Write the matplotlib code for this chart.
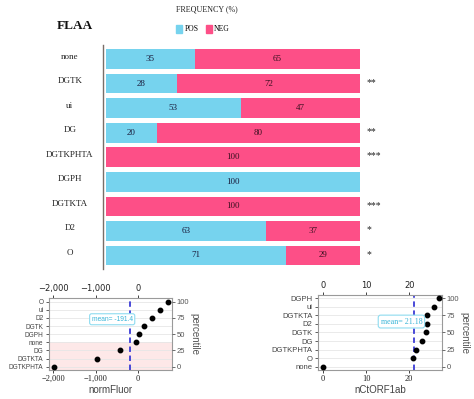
import numpy as np
import matplotlib
matplotlib.use("Agg")
import matplotlib.pyplot as plt
from matplotlib.ticker import FuncFormatter

W, H = 474, 399
SERIF = "Liberation Serif"
SANS = "Liberation Sans"

POS_COLOR = "#76d3ee"
NEG_COLOR = "#fd4f87"
MEAN_COLOR = "#3b3bd6"
BOX_TEXT = "#3ab5d8"

# top chart: FLAA frequency
categories = ["none", "DGTK", "ui", "DG", "DGTKPHTA", "DGPH", "DGTKTA", "D2", "O"]
pos_pct = [35, 28, 53, 20, 0, 100, 0, 63, 71]
neg_pct = [65, 72, 47, 80, 100, 0, 100, 37, 29]
signif = ["", "**", "", "**", "***", "", "***", "*", "*"]

# bottom left: normFluor, sorted by rank
fluor_labels = ["DGTKPHTA", "DGTKTA", "DG", "none", "DGPH", "DGTK", "D2", "ui", "O"]
fluor_values = [-1990, -975, -430, -45, 25, 145, 335, 525, 715]
fluor_mean = -191.4

# bottom right: nCtORF1ab, sorted by rank
ct_labels = ["none", "O", "DGTKPHTA", "DG", "DGTK", "D2", "DGTKTA", "ui", "DGPH"]
ct_values = [0, 20.8, 21.5, 22.9, 23.8, 24.2, 24.2, 25.8, 26.8]
ct_mean = 21.18


def px_axes(left, top, right, bottom):
    return fig.add_axes([left / W, 1 - bottom / H, (right - left) / W, (bottom - top) / H])


fig = plt.figure(figsize=(W / 100, H / 100), dpi=100, facecolor="white")

# ---- stacked bar chart ----
ax = px_axes(106, 45, 360, 269)
y = np.arange(len(categories))
ax.barh(y, pos_pct, height=0.8, color=POS_COLOR, edgecolor="none")
ax.barh(y, neg_pct, left=pos_pct, height=0.8, color=NEG_COLOR, edgecolor="none")
ax.set_xlim(0, 100)
ax.set_ylim(8.55, -0.57)
trans = ax.get_yaxis_transform()
for i in range(len(categories)):
    if pos_pct[i] > 0:
        ax.text(pos_pct[i] / 2, i, str(pos_pct[i]), ha="center", va="center",
                fontsize=6.5, family=SERIF, color="#1a1a3a")
    if neg_pct[i] > 0:
        ax.text(pos_pct[i] + neg_pct[i] / 2, i, str(neg_pct[i]), ha="center", va="center",
                fontsize=6.5, family=SERIF, color="#3a1020")
    ax.text(-0.142, i - 0.1, categories[i], transform=trans, ha="center", va="center",
            fontsize=6.5, family=SERIF, color="#222222")
    if signif[i]:
        ax.text(1.025, i - 0.05, signif[i], transform=trans, ha="left", va="center",
                fontsize=7, family=SERIF, color="#222222")
for s in ["top", "right", "bottom"]:
    ax.spines[s].set_visible(False)
ax.spines["left"].set_position(("outward", 2.5))
ax.spines["left"].set_color("#7a6e68")
ax.spines["left"].set_linewidth(1.0)
ax.set_xticks([])
ax.set_yticks([])

fig.text(75 / W, 1 - 26 / H, "FLAA", ha="center", va="center", fontsize=9.5,
         fontweight="bold", family=SERIF, color="#111111")
fig.text(207 / W, 1 - 9.5 / H, "FREQUENCY (%)", ha="center", va="center",
         fontsize=5.8, family=SERIF, color="#222222")
h1 = plt.Rectangle((0, 0), 1, 1, color=POS_COLOR)
h2 = plt.Rectangle((0, 0), 1, 1, color=NEG_COLOR)
leg = fig.legend([h1, h2], ["POS", "NEG"], loc="center", bbox_to_anchor=(203 / W, 1 - 29 / H),
                 ncol=2, frameon=False, handlelength=0.75, handleheight=1.3,
                 handletextpad=0.3, columnspacing=1.0, borderpad=0,
                 prop={"family": SERIF, "size": 5.5})


def rank_plot(axp, labels, values, mean, xlim, ylim, xticks, xfmt, label, label_color,
              label_size, mean_text, text_xy, text_family, text_size, shade_top=None):
    n = len(labels)
    pct = np.arange(n) * 100.0 / (n - 1)
    axp.set_xlim(*xlim)
    axp.set_ylim(*ylim)
    if shade_top is not None:
        axp.axhspan(ylim[0], shade_top, color="#fde8e8", zorder=0, lw=0)
    for p in pct:
        axp.axhline(p, color="#e6e6e6", lw=0.6, zorder=1)
    axp.axvline(mean, color=MEAN_COLOR, lw=1.3, dashes=(3, 2), zorder=2)
    axp.plot(values, pct, "o", color="black", ms=3.2, zorder=4)
    axp.text(text_xy[0], text_xy[1], mean_text, ha="center", va="center", fontsize=text_size,
             family=text_family, color=BOX_TEXT, zorder=5,
             bbox=dict(boxstyle="round,pad=0.3", fc="white", ec="#8fdcf0", lw=0.8))
    axp.set_yticks(pct)
    axp.set_yticklabels(labels, fontsize=label_size, family=SANS, color=label_color)
    axp.set_xticks(xticks)
    axp.xaxis.set_major_formatter(FuncFormatter(xfmt))
    for t in axp.get_xticklabels():
        t.set_family(SERIF)
    axp.tick_params(axis="x", top=True, labeltop=True, labelsize=6, length=2,
                    width=0.6, pad=1.5, colors="#222222")
    axp.tick_params(axis="y", length=2, width=0.6, pad=2, colors="#444444")
    for s in axp.spines.values():
        s.set_color("#9a9a9a")
        s.set_linewidth(0.8)
    axp.set_xlabel(label, fontsize=7, family=SANS, color="#444444", labelpad=1.5)
    tw = axp.twinx()
    tw.set_ylim(*ylim)
    tw.set_yticks([0, 25, 50, 75, 100])
    tw.set_yticklabels(["0", "25", "50", "75", "100"], fontsize=5.5, family=SANS, color="#555555")
    tw.tick_params(axis="y", length=2, width=0.6, pad=1.5, colors="#555555")
    tw.set_ylabel("percentile", rotation=270, fontsize=7, family=SANS, color="#555555",
                  labelpad=7)
    for s in tw.spines.values():
        s.set_visible(False)


def thousands(v, _):
    s = "{:,.0f}".format(abs(v))
    return ("\u2212" + s) if v < 0 else s


ax1 = px_axes(49, 298, 172, 370)
rank_plot(ax1, fluor_labels, fluor_values, fluor_mean, (-2100, 800), (-5.1, 105.7),
          [-2000, -1000, 0], thousands, "normFluor", "#444444", 4.7,
          "mean= -191.4", (-610, 73), SANS, 4.8, shade_top=38.5)

ax2 = px_axes(318, 295, 442, 370)
rank_plot(ax2, ct_labels, ct_values, ct_mean, (-1.15, 27.6), (-4.8, 104.8),
          [0, 10, 20], lambda v, _: "{:.0f}".format(v), "nCtORF1ab", "#666666", 5.5,
          "mean= 21.18", (18.2, 66), SERIF, 5.8)

fig.savefig("out.png", dpi=100, facecolor="white")
